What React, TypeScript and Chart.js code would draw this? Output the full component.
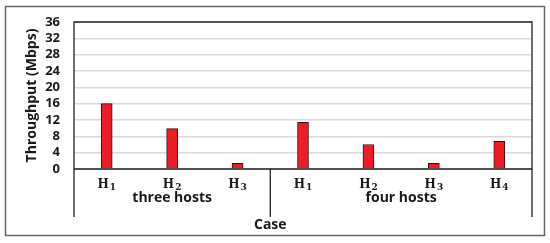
import React, { useEffect, useRef } from "react";
import { Chart, registerables } from "chart.js";

Chart.register(...registerables);

const hostLabels = ["1", "2", "3", "1", "2", "3", "4"];
const groupNames = ["three hosts", "four hosts"];
const groupSizes = [3, 4];
const throughput = [16, 9.9, 1.4, 11.4, 6.0, 1.4, 6.8];
const yMax = 36;
const yStep = 4;
const yTitle = "Throughput (Mbps)";
const xTitle = "Case";

const SANS = "'Open Sans', 'Noto Sans', sans-serif";
const SERIF = "'DejaVu Serif', 'Liberation Serif', serif";

const decorPlugin = {
  id: "decor",
  afterDraw(chart: any) {
    const { ctx, chartArea, scales } = chart;
    const x = scales.x;
    const { left, right, top, bottom } = chartArea;
    const sepBottom = 217;
    ctx.save();
    ctx.strokeStyle = "#222";
    ctx.lineWidth = 1.3;
    ctx.beginPath();
    ctx.moveTo(left, sepBottom);
    ctx.lineTo(left, top);
    ctx.lineTo(right, top);
    ctx.lineTo(right, sepBottom);
    ctx.moveTo(left, bottom);
    ctx.lineTo(right, bottom);
    ctx.stroke();
    let idx = 0;
    const step = (right - left) / hostLabels.length;
    groupSizes.forEach((n, gi) => {
      const start = idx;
      idx += n;
      if (gi < groupSizes.length - 1) {
        const xp = x.getPixelForValue(idx - 1) + step / 2;
        ctx.beginPath();
        ctx.moveTo(xp, bottom);
        ctx.lineTo(xp, sepBottom);
        ctx.stroke();
      }
      const c = (x.getPixelForValue(start) + x.getPixelForValue(idx - 1)) / 2;
      ctx.fillStyle = "#1a1a1a";
      ctx.font = `bold 14px ${SANS}`;
      ctx.textAlign = "center";
      ctx.textBaseline = "middle";
      ctx.fillText(groupNames[gi], c, 198);
    });
    hostLabels.forEach((s, i) => {
      const xp = x.getPixelForValue(i);
      ctx.font = `bold 12px ${SERIF}`;
      const hw = ctx.measureText("H").width;
      ctx.font = `bold 9px ${SERIF}`;
      const sw = ctx.measureText(s).width;
      const total = hw + sw + 1;
      const x0 = xp - total / 2;
      ctx.textAlign = "left";
      ctx.textBaseline = "alphabetic";
      ctx.fillStyle = "#1a1a1a";
      ctx.font = `bold 12px ${SERIF}`;
      ctx.fillText("H", x0, 188);
      ctx.font = `bold 9px ${SERIF}`;
      ctx.fillText(s, x0 + hw + 1, 190);
    });
    ctx.font = `bold 14px ${SANS}`;
    ctx.textAlign = "center";
    ctx.textBaseline = "middle";
    ctx.fillText(xTitle, x.getPixelForValue(2) + step / 2, 225);
    ctx.translate(32, (top + bottom) / 2);
    ctx.rotate(-Math.PI / 2);
    ctx.font = `bold 14px ${SANS}`;
    ctx.fillText(yTitle, 0, 0);
    ctx.restore();
    ctx.save();
    ctx.strokeStyle = "#666";
    ctx.lineWidth = 1.5;
    ctx.strokeRect(5.5, 6.5, 539, 229);
    ctx.restore();
  },
};

export default function App() {
  const ref = useRef<HTMLCanvasElement>(null);
  useEffect(() => {
    const chart = new Chart(ref.current!, {
      type: "bar",
      data: {
        labels: hostLabels.map((h) => "H" + h),
        datasets: [
          {
            data: throughput,
            backgroundColor: "#ee1c25",
            borderColor: "#3a1010",
            borderWidth: 1,
            barThickness: 11,
          },
        ],
      },
      options: {
        animation: false,
        responsive: false,
        devicePixelRatio: 1,
        layout: { padding: { left: 8, right: 18, top: 22, bottom: 74 } },
        plugins: { legend: { display: false }, tooltip: { enabled: false } },
        scales: {
          x: { display: false },
          y: {
            min: 0,
            max: yMax,
            afterFit: (s: any) => {
              s.width = 66;
            },
            border: { display: false },
            grid: { color: "#d9d9d9", lineWidth: 1.5, drawTicks: false },
            ticks: {
              stepSize: yStep,
              autoSkip: false,
              padding: 14,
              color: "#1a1a1a",
              font: { family: SANS, weight: "bold", size: 13 },
            },
          },
        },
      },
      plugins: [decorPlugin],
    });
    return () => chart.destroy();
  }, []);
  return (
    <div style={{ position: "absolute", left: 0, top: 0, width: 550, height: 243, background: "#fff" }}>
      <canvas ref={ref} width={550} height={243} style={{ display: "block" }} />
    </div>
  );
}
